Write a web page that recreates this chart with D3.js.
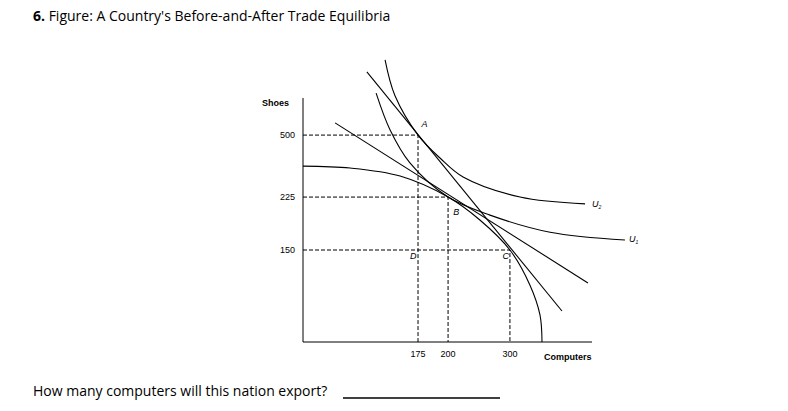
<!DOCTYPE html>
<html><head><meta charset="utf-8">
<script src="https://cdn.jsdelivr.net/npm/d3@7"></script>
<style>body{margin:0;background:#fff}text{font-family:"Open Sans",sans-serif}</style>
</head><body><svg id="c" width="788" height="411"></svg>
<script>
// chart in schematic units 0..100 (axes are not to scale in the original)
var xTicks = [{u: 39.8, label: "175"}, {u: 50.2, label: "200"}, {u: 71.6, label: "300"}];
var yTicks = [{u: 84.8, label: "500"}, {u: 59.4, label: "225"}, {u: 37.7, label: "150"}];
var ppf = [[0,72.1],[16.3,71.3],[33.6,68],[50.2,59.4],[61.2,50],[71.6,37.7],[78.5,23.4],[82,11.1],[82.7,0]];
var u1 = [[25.3,102],[30.1,87],[37,73.4],[50.2,59.4],[64.7,52],[85.5,45],[111.4,41.8]];
var u2 = [[28.4,115.6],[31.8,101],[39.8,84.8],[47.4,75.4],[55.4,67.6],[75.1,59.4],[97.6,56.6]];
var priceLines = [[[22.1,110.7],[89.6,12.7]], [[11.1,89.8],[98.6,24.2]]];
var dashPoints = [[39.8,84.8],[50.2,59.4],[71.6,37.7]];
var pointLabels = [{t:"A",x:41,y:88},{t:"B",x:52,y:52},{t:"C",x:69,y:34},{t:"D",x:37,y:34}];

var svg = d3.select("#c");
var x = d3.scaleLinear().domain([0,100]).range([303,592]);
var y = d3.scaleLinear().domain([0,100]).range([342,98]);

svg.append("text").attr("x",33).attr("y",21).attr("font-size",14)
  .html('<tspan font-weight="bold">6.</tspan> Figure: A Country\'s Before-and-After Trade Equilibria');

svg.append("line").attr("x1",x(0)).attr("x2",x(0)).attr("y1",y(100)).attr("y2",y(0)).attr("stroke","#000");
svg.append("line").attr("x1",x(0)).attr("x2",x(100)).attr("y1",y(0)).attr("y2",y(0)).attr("stroke","#000");

dashPoints.forEach(function(p){
  svg.append("path").attr("d","M"+x(0)+","+y(p[1])+"H"+x(p[0])+"V"+y(0))
    .attr("fill","none").attr("stroke","#000").attr("stroke-dasharray","4,2").attr("stroke-width",1);
});

var line = d3.line().x(function(d){return x(d[0]);}).y(function(d){return y(d[1]);}).curve(d3.curveCatmullRom);
[ppf,u1,u2].forEach(function(c){
  svg.append("path").attr("d",line(c)).attr("fill","none").attr("stroke","#000").attr("stroke-width",1.1);
});
priceLines.forEach(function(c){
  svg.append("path").attr("d",d3.line().x(function(d){return x(d[0]);}).y(function(d){return y(d[1]);})(c))
    .attr("fill","none").attr("stroke","#000").attr("stroke-width",1.1);
});

var sans = "Arial,'Liberation Sans',sans-serif";
xTicks.forEach(function(t){
  svg.append("text").attr("x",x(t.u)).attr("y",y(0)+15).attr("text-anchor","middle")
    .attr("font-size",9).style("font-family",sans).text(t.label);
});
yTicks.forEach(function(t){
  svg.append("text").attr("x",x(0)-8).attr("y",y(t.u)+3).attr("text-anchor","end")
    .attr("font-size",9).style("font-family",sans).text(t.label);
});
svg.append("text").attr("x",262).attr("y",106).attr("font-size",9).attr("font-weight","bold").style("font-family",sans).text("Shoes");
svg.append("text").attr("x",544).attr("y",360).attr("font-size",9).attr("font-weight","bold").style("font-family",sans).text("Computers");

pointLabels.forEach(function(p){
  svg.append("text").attr("x",x(p.x)).attr("y",y(p.y)).attr("font-size",9).attr("font-style","italic")
    .style("font-family",sans).text(p.t);
});
svg.append("text").attr("x",592).attr("y",207).attr("font-size",9).attr("font-style","italic").style("font-family",sans)
  .html('U<tspan font-size="5" dy="2">2</tspan>');
svg.append("text").attr("x",629).attr("y",242).attr("font-size",9).attr("font-style","italic").style("font-family",sans)
  .html('U<tspan font-size="5" dy="2">1</tspan>');

svg.append("text").attr("x",33).attr("y",396).attr("font-size",14).text("How many computers will this nation export?");
svg.append("line").attr("x1",343).attr("x2",500).attr("y1",398).attr("y2",398).attr("stroke","#000").attr("stroke-width",1.3);
</script></body></html>
